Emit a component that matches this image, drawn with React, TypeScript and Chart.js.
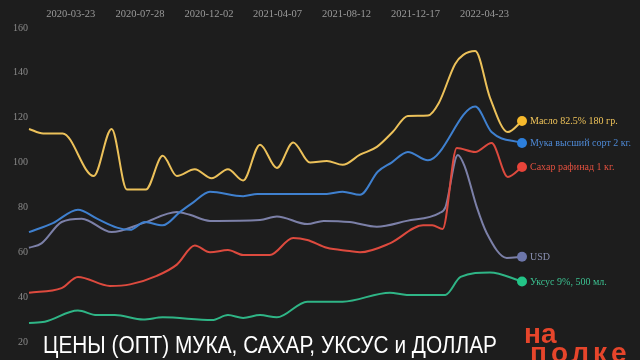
import React, { useEffect, useRef } from "react";
import { Chart, registerables } from "chart.js";

Chart.register(...registerables);

// ---- data ----
const tickLabels = ["2020-03-23", "2020-07-28", "2020-12-02", "2021-04-07", "2021-08-12", "2021-12-17", "2022-04-23"];
const xStart = "2020-01-06";
const xEnd = "2022-07-01";
const yMin = 20;
const yMax = 160;
const yStep = 20;

const titleText = "ЦЕНЫ (ОПТ) МУКА, САХАР, УКСУС и ДОЛЛАР";

const seriesNames = ["Масло 82.5% 180 гр.", "Мука высший сорт 2 кг.", "Сахар рафинад 1 кг.", "USD", "Уксус 9%, 500 мл."];

const oilDates = ["2020-01-06", "2020-02-01", "2020-03-08", "2020-05-04", "2020-06-06", "2020-07-04", "2020-08-08", "2020-09-08", "2020-10-04", "2020-11-06", "2020-12-07", "2021-01-06", "2021-02-03", "2021-03-06", "2021-04-06", "2021-05-06", "2021-06-06", "2021-07-07", "2021-08-05", "2021-09-06", "2021-10-07", "2021-11-05", "2021-12-03", "2022-01-09", "2022-01-29", "2022-02-28", "2022-03-15", "2022-04-06", "2022-05-03", "2022-06-05", "2022-07-01"];
const oilValues = [115, 113, 113, 94, 115, 88, 88, 103, 94, 97, 93, 97, 92, 108, 97.6, 109, 100, 100.7, 99, 103.5, 107, 113.6, 120.8, 121, 126.6, 144, 148, 149.7, 129, 113.6, 118.5];

const flourDates = ["2020-01-06", "2020-02-19", "2020-04-05", "2020-05-10", "2020-06-16", "2020-07-10", "2020-08-06", "2020-09-08", "2020-10-10", "2020-11-02", "2020-12-04", "2021-02-03", "2021-03-01", "2021-07-07", "2021-08-05", "2021-09-06", "2021-10-09", "2021-11-03", "2021-12-03", "2022-01-09", "2022-04-06", "2022-05-06", "2022-07-01"];
const flourValues = [69, 73, 79, 75, 71, 70, 73.5, 72, 78, 82, 87, 85, 86, 86, 87, 85.6, 96, 100, 104.7, 101, 125, 113.6, 108.7];

const sugarDates = ["2020-01-06", "2020-03-06", "2020-04-05", "2020-06-03", "2020-07-10", "2020-08-28", "2020-10-04", "2020-11-06", "2020-12-04", "2021-01-06", "2021-02-03", "2021-03-24", "2021-05-06", "2021-06-01", "2021-07-07", "2021-08-18", "2021-09-06", "2021-10-31", "2021-12-31", "2022-01-17", "2022-02-05", "2022-03-03", "2022-04-06", "2022-05-06", "2022-06-05", "2022-07-01"];
const sugarValues = [42, 44, 49, 45, 45.7, 49.5, 54.5, 63, 60, 61, 58.8, 58.8, 66.4, 65.5, 62, 60.6, 60, 64, 72, 72, 70.4, 106.5, 104.7, 108.7, 93.6, 98];

const usdDates = ["2020-01-06", "2020-01-29", "2020-03-06", "2020-04-12", "2020-06-06", "2020-08-03", "2020-10-04", "2020-10-28", "2020-12-04", "2021-03-06", "2021-04-06", "2021-06-01", "2021-07-01", "2021-08-18", "2021-10-07", "2021-12-01", "2022-01-30", "2022-02-10", "2022-03-05", "2022-03-18", "2022-04-09", "2022-04-27", "2022-06-03", "2022-07-01"];
const usdValues = [62, 64, 73.5, 75, 69, 73, 78, 76.7, 74, 74.4, 76, 72.6, 74, 73.5, 71.4, 74, 77.5, 80, 103.4, 98, 80, 68.6, 57.5, 58];

const vinegarDates = ["2020-01-06", "2020-02-04", "2020-04-05", "2020-05-10", "2020-06-12", "2020-08-03", "2020-09-08", "2020-12-08", "2021-01-06", "2021-02-03", "2021-03-06", "2021-04-06", "2021-06-01", "2021-08-05", "2021-10-31", "2021-12-01", "2022-02-10", "2022-03-10", "2022-05-03", "2022-07-01"];
const vinegarValues = [28.5, 29, 34, 32, 32, 30, 31, 29.8, 32, 30.7, 32, 31, 38, 38, 42, 41, 41, 49, 51, 47];

// ---- styles ----
const lineColors = ["#ecc15a", "#3f80cf", "#dd4a3e", "#7c80a8", "#2fb586"];
const dotColors = ["#f6b92c", "#2d7fdc", "#e8443a", "#6d76aa", "#23c487"];
const labelColors = ["#f0c45a", "#4d88d4", "#e2503f", "#8a90b2", "#3cc090"];

const toPoints = (dates: string[], values: number[]) =>
  dates.map((d, i) => ({ x: Date.parse(d), y: values[i] }));

export default function App() {
  const ref = useRef<HTMLCanvasElement | null>(null);

  useEffect(() => {
    document.body.style.margin = "0";
    document.body.style.background = "#1d1d1d";
    const canvas = ref.current;
    if (!canvas) return;

    const seriesData = [
      toPoints(oilDates, oilValues),
      toPoints(flourDates, flourValues),
      toPoints(sugarDates, sugarValues),
      toPoints(usdDates, usdValues),
      toPoints(vinegarDates, vinegarValues),
    ];

    const endLabels = {
      id: "endLabels",
      afterDatasetsDraw(chart: any) {
        const ctx = chart.ctx;
        ctx.save();
        chart.data.datasets.forEach((ds: any, i: number) => {
          const meta = chart.getDatasetMeta(i);
          const last = meta.data[meta.data.length - 1];
          if (!last) return;
          ctx.font = '10px "Liberation Serif", serif';
          ctx.fillStyle = labelColors[i];
          ctx.textBaseline = "middle";
          ctx.textAlign = "left";
          ctx.fillText(ds.label, last.x + 8, last.y + 0.5);
        });
        ctx.restore();
      },
    };

    const chart = new Chart(canvas, {
      type: "line",
      data: {
        datasets: seriesData.map((pts, i) => ({
          label: seriesNames[i],
          data: pts,
          borderColor: lineColors[i],
          borderWidth: 2,
          cubicInterpolationMode: "monotone" as const,
          fill: false,
          clip: false as any,
          pointRadius: (c: any) => (c.dataIndex === pts.length - 1 ? 5 : 0),
          pointHoverRadius: 0,
          pointBackgroundColor: dotColors[i],
          pointBorderColor: dotColors[i],
          pointBorderWidth: 0,
        })),
      },
      options: {
        responsive: false,
        animation: false,
        devicePixelRatio: 1,
        layout: { padding: { left: 0, right: 118, top: 0, bottom: 18 } },
        plugins: {
          legend: { display: false },
          tooltip: { enabled: false },
        },
        scales: {
          x: {
            type: "linear",
            position: "top",
            min: Date.parse(xStart),
            max: Date.parse(xEnd),
            grid: { display: false, drawTicks: false },
            border: { display: false },
            afterBuildTicks: (scale: any) => {
              scale.ticks = tickLabels.map((d) => ({ value: Date.parse(d) }));
            },
            afterFit: (scale: any) => {
              scale.height = 28;
            },
            ticks: {
              autoSkip: false,
              maxRotation: 0,
              padding: 7,
              color: "#9a9a9a",
              font: { family: '"Liberation Serif", serif', size: 10.5 },
              callback: (v: any) => new Date(v).toISOString().slice(0, 10),
            },
          },
          y: {
            min: yMin,
            max: yMax,
            grid: { display: false, drawTicks: false },
            border: { display: false },
            afterFit: (scale: any) => {
              scale.width = 29;
            },
            ticks: {
              stepSize: yStep,
              padding: 1,
              color: "#8a8a8a",
              font: { family: '"Liberation Serif", serif', size: 10 },
            },
          },
        },
      },
      plugins: [endLabels],
    });

    return () => chart.destroy();
  }, []);

  return (
    <div
      style={{
        position: "absolute",
        left: 0,
        top: 0,
        width: 640,
        height: 360,
        background: "#1d1d1d",
        overflow: "hidden",
      }}
    >
      <canvas ref={ref} width={640} height={360} style={{ position: "absolute", left: 0, top: 0 }} />
      <div
        style={{
          position: "absolute",
          left: 43,
          top: 330,
          color: "#ffffff",
          fontFamily: '"Liberation Sans", Arial, sans-serif',
          fontSize: 23,
          lineHeight: "30px",
          whiteSpace: "nowrap",
          transform: "scaleX(0.905)",
          transformOrigin: "left top",
        }}
      >
        {titleText}
      </div>
      <div
        style={{
          position: "absolute",
          left: 524,
          top: 324,
          color: "#e6452b",
          fontFamily: '"Liberation Sans", Arial, sans-serif',
          fontWeight: 700,
          fontSize: 28,
          lineHeight: "19px",
          whiteSpace: "nowrap",
        }}
      >
        <div>на</div>
        <div style={{ marginLeft: 6, letterSpacing: 4 }}>полке</div>
      </div>
    </div>
  );
}
